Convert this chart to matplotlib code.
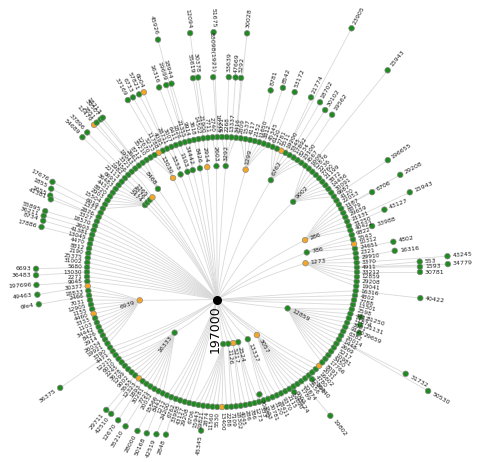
import numpy as np
import matplotlib.pyplot as plt

# ring layout centre / radius in pixel space of the 500x462 canvas
CX, CY, R = 222, 272, 135

root_label = "197000"
root_pos = (260, 28)  # angle (deg), radius from ring centre

ring_labels = """
4802 16316 19041 29208 12859 33212 4911 3370 29910 2321 24651 10312 5543 9822 40422
31250 21131 29659 8879 1187 22053 4120 6687 30091 14456 3872 21199 7760 2236 12876
1009 4567 23100 8234 17892 3345 19200 5511 2781 6120 45345 3812 11650 2152 4117
1537 2809 3416 13337 2268 5021 16333 2740 7711 21900 14502 3618 9914 21355 1826
6411 3007 28711 4095 11788 5233 12670 35210 8712 2661 19043 3321 7456 1982 22113
6693 36483 4431 8820 2903 15504 6019 1377 2876 3327 18570 2603 41381 13045 4470
8812 2190 25375 31002 5680 13030 2271 9045 30377 18833 2466 7031 12905 1155 4460
3333 1103 34442 8426 2914 26034 19921 3390 4471 12215 6010 2245 3678 1299 9002
5555 12323 1893 30281 7721 20032 15566 8441 1212 24200 6762 33988 43127 29208 6706
15943 19821 2874 11560 5530 13400 2288 7109 18302 4045 286 786 1273 553 1593
30781 3120 28411 9370 2115 14690 6002 1789 22874 3556 12093 4780 16602 2031 8091
17766 3450 10981 5217 2669 1448 20014 6382 9120 3001 11874 4412 2598 13301 7788
""".split()
ring_orange = [11, 37, 64, 98, 104, 121, 140, 163]

# inner (depth-1) nodes: angle, radius, label, orange?
inner_ang = [44.6, 21, 13, 6, 331, 299, 291, 283, 279, 275, 271, 232, 199,
             127.6, 139, 137, 135, 133, 117.5, 113, 109, 106, 102, 98, 93, 88, 77, 62]
inner_r = [100, 89, 87, 84, 75, 72, 72, 72, 72, 72, 72, 77, 87,
           105, 102, 102, 102, 102, 106, 106, 106, 106, 106, 106, 106, 106, 105, 104]
inner_lab = ["9002", "286", "786", "1273", "12859", "3057", "13337", "2524", "5217", "1126", "",
             "16333", "6939", "8468", "3474", "8276", "1365", "", "13030", "3333", "1103",
             "34442", "8426", "2914", "2603", "3292", "1299", "6762"]
inner_orange = [1, 3, 5, 8, 12, 17, 18, 23, 26]

# outer (depth-3) nodes
outer_ang = [105.4, 97.6, 92, 84, 62, 50.6,
             136, 134, 131, 130, 128.5, 127.7, 118.7, 117, 115, 113.5, 108.8, 106.6, 105,
             98.5, 97, 92.6, 88, 86, 84.4, 75, 71.7, 68, 63, 60, 57.5, 55,
             152, 154, 156, 157, 161, 162.5, 164, 166, 179, 181, 184, 187, 190, 215.6,
             230, 232, 235, 238, 242, 245, 248, 251, 262.5, 287, 301, 310, 307,
             331, 330, 342, 339, 336, 4, 2, 3, 1.5, 0, 352.5, 10, 7, 17, 21, 28, 28.6, 23, 34]
outer_r = [241, 241, 240, 240, 276, 261,
           194, 194, 195, 195, 195, 195, 196, 196, 196, 196, 195, 195, 195,
           196, 196, 195, 195, 195, 195, 188, 194, 194, 196, 196, 192, 192,
           192, 190, 188, 186, 187, 187, 186, 186, 186, 186, 186, 186, 186, 199,
           180, 180, 181, 182, 180, 178, 175, 172, 160, 128, 140, 140, 180,
           210, 238, 146, 148, 150, 226, 226, 198, 198, 198, 200, 174, 174, 157, 174, 170, 203, 204, 200]
outer_lab = ["45926", "12094", "51675", "30028", "23905", "15943",
             "54689", "37896", "13479", "2851", "39507", "18213", "37169", "6733", "57821", "6b04",
             "16316", "19699", "18944", "55619", "30378", "83098(1921)", "33639", "47669", "3292",
             "8781", "8542", "53172", "21774", "18702", "30102", "19562",
             "17676", "1855", "1655", "41381", "55895", "36211", "8734", "17886",
             "6693", "36483", "197696", "49463", "6fe4", "36375",
             "29711", "42510", "12670", "35210", "28000", "50168", "42519", "2848",
             "45345", "20772", "13124", "16440", "19802",
             "31732", "50530", "31250", "21131", "29659", "43245", "34779", "553", "1593", "30781",
             "40422", "4802", "16316", "33988", "43127", "6706", "29208", "15943", "196655"]
outer_orange = [8, 15]

GREEN, ORANGE, LINK = "#1f8a1f", "#f5a623", "#d9d9d9"


def pos(a, r):
    t = np.radians(a)
    return CX + r * np.cos(t), CY - r * np.sin(t)


def curve(ax, p0, p1, bend=0.5):
    # quadratic bezier, bent a little like a tree link
    mx, my = (p0[0] + p1[0]) / 2, (p0[1] + p1[1]) / 2
    cx, cy = mx + (p0[0] - mx) * bend * 0.3, my + (p1[1] - my) * bend * 0.3
    t = np.linspace(0, 1, 20)[:, None]
    pts = (1 - t) ** 2 * np.array(p0) + 2 * (1 - t) * t * np.array([cx, cy]) + t ** 2 * np.array(p1)
    ax.plot(pts[:, 0], pts[:, 1], color=LINK, lw=0.6, zorder=1)


def label(ax, a, r, text, size, off=5):
    x, y = pos(a, r + off)
    a = a % 360
    rot = a if (a <= 90 or a >= 270) else a - 180
    ha = "left" if (a <= 90 or a >= 270) else "right"
    ax.text(x, y, text, fontsize=size, rotation=rot, ha=ha, va="center",
            rotation_mode="anchor", color="#222222", zorder=4)


def adiff(a, b):
    return abs((a - b + 180) % 360 - 180)


fig = plt.figure(figsize=(5, 4.62), dpi=100)
ax = fig.add_axes([0, 0, 1, 1])
ax.set_xlim(0, 500)
ax.set_ylim(462, 0)
ax.axis("off")

root = pos(*root_pos)
n = len(ring_labels)
ring_ang = [(-10 + i * 360 / n) % 360 for i in range(n)]

# links
for a, r in zip(inner_ang, inner_r):
    curve(ax, root, pos(a, r))
for a in ring_ang:
    d = [adiff(a, b) for b in inner_ang]
    j = int(np.argmin(d))
    src = pos(inner_ang[j], inner_r[j]) if d[j] < 14 else root
    curve(ax, src, pos(a, R))
for a, r in zip(outer_ang, outer_r):
    k = int(np.argmin([adiff(a, b) for b in ring_ang]))
    p0, p1 = pos(ring_ang[k], R), pos(a, r)
    ax.plot([p0[0], p1[0]], [p0[1], p1[1]], color=LINK, lw=0.6, zorder=1)


def nodes(angs, rads, orange):
    xy = np.array([pos(a, r) for a, r in zip(angs, rads)])
    cols = [ORANGE if i in orange else GREEN for i in range(len(angs))]
    ax.scatter(xy[:, 0], xy[:, 1], s=16, c=cols, edgecolors="#888888", linewidths=0.5, zorder=3)


nodes(ring_ang, [R] * n, ring_orange)
nodes(inner_ang, inner_r, inner_orange)
nodes(outer_ang, outer_r, outer_orange)
ax.scatter([root[0]], [root[1]], s=30, c="black", zorder=3)

for a, t in zip(ring_ang, ring_labels):
    label(ax, a, R, t, 4.2)
for a, r, t in zip(inner_ang, inner_r, inner_lab):
    label(ax, a, r, t, 4.5)
for a, r, t in zip(outer_ang, outer_r, outer_lab):
    label(ax, a, r, t, 4.5)
ax.text(root[0] - 2, root[1] + 6, root_label, fontsize=9, rotation=90, ha="center", va="top", zorder=4)

fig.savefig("out.png", dpi=100)
